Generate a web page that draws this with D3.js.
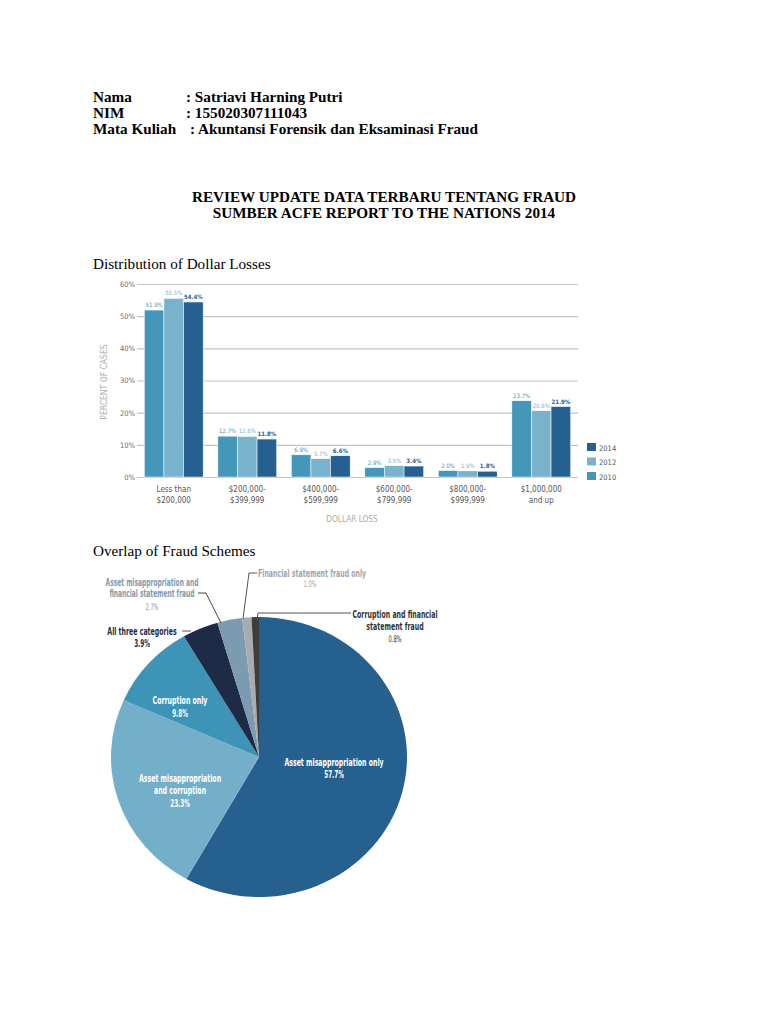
<!DOCTYPE html>
<html>
<head>
<meta charset="utf-8">
<script src="https://cdn.jsdelivr.net/npm/d3@7"></script>
<style>
  body { margin: 0; background: #fff; }
  svg { display: block; }
</style>
</head>
<body>
<script>
// bar chart data
const categories = [
  ["Less than", "$200,000"],
  ["$200,000-", "$399,999"],
  ["$400,000-", "$599,999"],
  ["$600,000-", "$799,999"],
  ["$800,000-", "$999,999"],
  ["$1,000,000", "and up"]
];
const years = ["2010", "2012", "2014"];
const values2010 = [51.9, 12.7, 6.9, 2.9, 2.0, 23.7];
const values2012 = [55.5, 12.6, 5.7, 3.5, 1.9, 20.6];
const values2014 = [54.4, 11.8, 6.6, 3.4, 1.8, 21.9];
const yTicks = [0, 10, 20, 30, 40, 50, 60];

// pie data
const schemeNames = [
  "Asset misappropriation only",
  "Asset misappropriation and corruption",
  "Corruption only",
  "All three categories",
  "Asset misappropriation and financial statement fraud",
  "Financial statement fraud only",
  "Corruption and financial statement fraud"
];
const schemeValues = [57.7, 23.3, 9.8, 3.9, 2.7, 1.0, 0.8];

const yearColor = {"2010": "#4497b9", "2012": "#79b3cb", "2014": "#266090"};
const sliceColors = ["#26608f", "#74afc9", "#3d94b7", "#1e2b47", "#7d9bb0", "#a9abae", "#3d3d3d"];

const serif = "'Liberation Serif', 'Times New Roman', serif";
const narrow = "'DejaVu Sans Condensed', 'Liberation Sans Narrow', sans-serif";

const svg = d3.select("body").append("svg")
    .attr("width", 768)
    .attr("height", 1024);

// header
const head = svg.append("g")
    .style("font-family", serif)
    .style("font-size", "15.2px")
    .style("font-weight", "bold")
    .attr("fill", "#000");

[["Nama", ": Satriavi Harning Putri", 186, 102],
 ["NIM", ": 155020307111043", 186, 118],
 ["Mata Kuliah", ": Akuntansi Forensik dan Eksaminasi Fraud", 190, 134]
].forEach(([k, v, vx, y]) => {
  head.append("text").attr("x", 93).attr("y", y).text(k);
  head.append("text").attr("x", vx).attr("y", y).text(v);
});

head.append("text").attr("x", 384).attr("y", 202).attr("text-anchor", "middle")
    .text("REVIEW UPDATE DATA TERBARU TENTANG FRAUD");
head.append("text").attr("x", 384).attr("y", 218).attr("text-anchor", "middle")
    .text("SUMBER ACFE REPORT TO THE NATIONS 2014");

svg.append("text").attr("x", 93).attr("y", 269)
    .style("font-family", serif).style("font-size", "15.2px")
    .text("Distribution of Dollar Losses");
svg.append("text").attr("x", 93).attr("y", 556)
    .style("font-family", serif).style("font-size", "15.2px")
    .text("Overlap of Fraud Schemes");

// ---- bar chart ----
const series = {"2010": values2010, "2012": values2012, "2014": values2014};

const x0 = d3.scaleBand()
    .domain(d3.range(categories.length))
    .range([137, 578])
    .paddingInner(0.2)
    .paddingOuter(0.1);

const x1 = d3.scaleBand()
    .domain(years)
    .range([0, x0.bandwidth()]);

const y = d3.scaleLinear()
    .domain([0, 60])
    .range([477, 284]);

const chart = svg.append("g").style("font-family", narrow);

const yAxis = chart.append("g")
    .attr("transform", "translate(137,0)")
    .call(d3.axisLeft(y)
      .tickValues(yTicks)
      .tickSize(-(578 - 137))
      .tickPadding(2)
      .tickFormat(d => d + "%"));
yAxis.select(".domain").remove();
yAxis.selectAll(".tick line").attr("stroke", "#c4c4c4").attr("stroke-width", 1.2);
yAxis.selectAll(".tick text")
    .attr("fill", "#6e6e6e")
    .style("font-family", narrow)
    .style("font-size", "7.5px");

chart.append("text")
    .attr("transform", "translate(107,382) rotate(-90)")
    .attr("text-anchor", "middle")
    .attr("fill", "#aaa")
    .style("font-size", "8.5px")
    .text("PERCENT OF CASES");

const group = chart.append("g").selectAll("g")
  .data(categories)
  .join("g")
    .attr("transform", (d, i) => `translate(${x0(i)},0)`);

group.selectAll("rect")
  .data((d, i) => years.map(yr => ({yr, v: series[yr][i]})))
  .join("rect")
    .attr("x", d => x1(d.yr))
    .attr("y", d => y(d.v))
    .attr("width", x1.bandwidth())
    .attr("height", d => y(0) - y(d.v))
    .attr("fill", d => yearColor[d.yr])
    .attr("stroke", "#fff")
    .attr("stroke-width", 0.5);

group.selectAll("text.val")
  .data((d, i) => years.map(yr => ({yr, v: series[yr][i]})))
  .join("text")
    .attr("class", "val")
    .attr("x", d => x1(d.yr) + x1.bandwidth() / 2)
    .attr("y", d => y(d.v) - 3)
    .attr("text-anchor", "middle")
    .attr("fill", d => yearColor[d.yr])
    .style("font-size", "6px")
    .style("font-weight", d => d.yr === "2014" ? "bold" : "normal")
    .text(d => d.v.toFixed(1) + "%");

group.each(function(d) {
  const t = d3.select(this).append("text")
      .attr("text-anchor", "middle")
      .attr("fill", "#555")
      .style("font-size", "8px");
  d.forEach((line, k) => {
    t.append("tspan")
        .attr("x", x0.bandwidth() / 2)
        .attr("y", 492 + k * 11)
        .text(line);
  });
});

chart.append("text")
    .attr("x", 352).attr("y", 522)
    .attr("text-anchor", "middle")
    .attr("fill", "#aaa")
    .style("font-size", "8.2px")
    .text("DOLLAR LOSS");

const legend = chart.append("g").selectAll("g")
  .data(years.slice().reverse())
  .join("g")
    .attr("transform", (d, i) => `translate(587,${443 + i * 14.5})`);
legend.append("rect")
    .attr("width", 9).attr("height", 8)
    .attr("fill", d => yearColor[d]);
legend.append("text")
    .attr("x", 12).attr("y", 7.5)
    .attr("fill", "#555")
    .style("font-size", "7.5px")
    .text(d => d);

// ---- pie chart ----
const cx = 259, cy = 757, rx = 148, ry = 140;

const pie = d3.pie().sort(null).value(d => d);
const arc = d3.arc().innerRadius(0).outerRadius(rx);

svg.append("g")
    .attr("transform", `translate(${cx},${cy}) scale(1,${ry / rx})`)
  .selectAll("path")
  .data(pie(schemeValues))
  .join("path")
    .attr("d", arc)
    .attr("fill", (d, i) => sliceColors[i]);

const labels = svg.append("g").style("font-family", narrow);
const sx = 0.63;

// lines: [text, bold, size, yOffset]
function label(x, yTop, lines, color, anchor = "middle") {
  const g = labels.append("g").attr("transform", `translate(${x},${yTop}) scale(${sx},1)`);
  const t = g.append("text").attr("text-anchor", anchor).attr("fill", color);
  lines.forEach(([s, bold, size, dy]) => {
    t.append("tspan")
        .attr("x", 0)
        .attr("y", dy)
        .style("font-size", size + "px")
        .style("font-weight", bold ? "bold" : "normal")
        .text(s);
  });
}

function leader(points, color) {
  labels.append("path")
      .attr("d", d3.line()(points))
      .attr("fill", "none")
      .attr("stroke", color)
      .attr("stroke-width", 1);
}

const pct = i => schemeValues[i].toFixed(1) + "%";

label(334, 766, [["Asset misappropriation only", true, 11, 0], [pct(0), true, 10, 12]], "#fff");
label(180, 782, [["Asset misappropriation", true, 11, 0], ["and corruption", true, 11, 12.5], [pct(1), true, 10, 25]], "#fff");
label(180, 704, [["Corruption only", true, 11, 0], [pct(2), true, 10, 13]], "#fff");
label(142, 635, [["All three categories", true, 11, 0], [pct(3), true, 10, 12]], "#1e2b47");
leader([[182, 631], [191, 631]], "#555");
label(152, 585.5, [["Asset misappropriation and", true, 10.5, 0], ["financial statement fraud", true, 10.5, 11.5], [pct(4), false, 9, 24.5]], "#7d9bb0");
leader([[198, 593], [206, 593], [221, 623]], "#444");
label(258, 577, [["Financial statement fraud only", true, 11, 0]], "#a3a5a8", "start");
label(310, 587, [[pct(5), false, 9, 0]], "#a3a5a8");
leader([[257, 573], [249, 573], [243, 619]], "#555");
label(395, 618, [["Corruption and financial", true, 11, 0], ["statement fraud", true, 11, 12], [pct(6), false, 9, 24]], "#333");
leader([[351, 613], [258, 613], [257, 620]], "#555");
</script>
</body>
</html>
